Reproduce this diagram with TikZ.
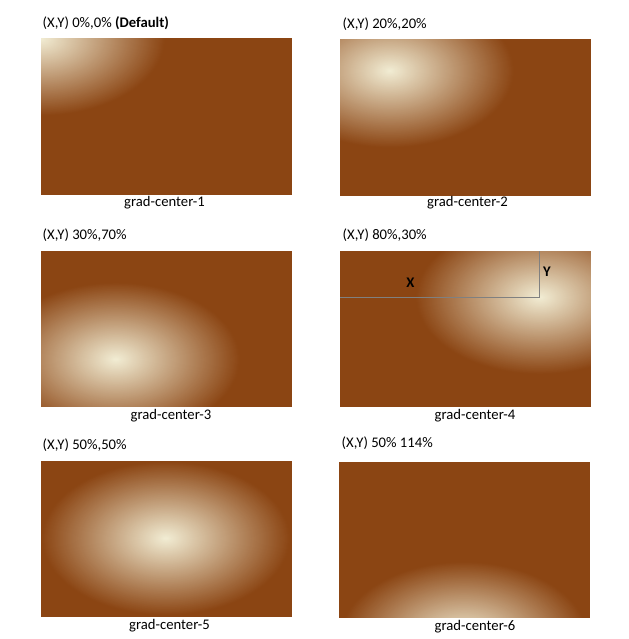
\documentclass[tikz,border=0pt]{standalone}
\usepackage{fontspec}
\setmainfont{Carlito}
\usetikzlibrary{calc}
\definecolor{sbrown}{HTML}{8B4513}
\definecolor{cream}{HTML}{F2EDD4}
\definecolor{guidegray}{HTML}{808080}
\tikzset{
  panel/.style={rectangle, inner sep=0pt, minimum width=250bp, minimum height=155bp, anchor=north west},
  title/.style={anchor=base west, inner sep=0pt, font=\fontsize{14.67bp}{17bp}\selectfont},
  caption/.style={anchor=base, inner sep=0pt, font=\fontsize{14.67bp}{17bp}\selectfont},
  guide/.style={draw=guidegray, line width=1bp},
  axislabel/.style={inner sep=0pt, font=\fontsize{14.67bp}{17bp}\selectfont\bfseries}
}
\newcommand{\gradpanel}[4]{% name, x, y, (fx,fy)
  \node[panel] (#1) at (#2,#3) {};
  \coordinate (#1c) at ($(#1.north west)+#4$);
  \begin{scope}
    \clip (#1.north west) rectangle (#1.south east);
    \begin{scope}[transparency group]
      \fill[sbrown] ($(#1.north west)+(-4,-4)$) rectangle ($(#1.south east)+(4,4)$);
      \foreach \i in {120,119,...,1}{
        \pgfmathsetmacro\tt{(\i-0.5)/120}
        \pgfmathsetmacro\pc{100*(1-\tt)}
        \fill[cream!\pc!sbrown] (#1c) ellipse [x radius=\i*125/120 bp, y radius=\i*77.5/120 bp];
      }
    \end{scope}
  \end{scope}
}
\begin{document}
\begin{tikzpicture}[x=1bp,y=-1bp]
\useasboundingbox (0,0) rectangle (629,639);
\fill[white] (0,0) rectangle (629,639);

\gradpanel{p1}{41}{39}{(0,0)}
\gradpanel{p2}{340}{40}{(50,31)}
\gradpanel{p3}{41}{251}{(75,108.5)}
\gradpanel{p4}{340}{251}{(200,46.5)}
\gradpanel{p5}{41}{461}{(125,77.5)}
\gradpanel{p6}{339}{462}{(125,176.7)}

\node[title] (t1) at (42.5,27.7) {(X,Y) 0\%,0\% \textbf{(Default)}};
\node[title] (t2) at (342.5,28.5) {(X,Y) 20\%,20\%};
\node[title] (t3) at (42.5,239) {(X,Y) 30\%,70\%};
\node[title] (t4) at (342.5,239) {(X,Y) 80\%,30\%};
\node[title] (t5) at (42.5,449) {(X,Y) 50\%,50\%};
\node[title] (t6) at (341.5,447.5) {(X,Y) 50\% 114\%};

\node[caption] (c1) at (164.5,206) {grad-center-1};
\node[caption] (c2) at (467.5,206.5) {grad-center-2};
\node[caption] (c3) at (171,419.5) {grad-center-3};
\node[caption] (c4) at (475,419.5) {grad-center-4};
\node[caption] (c5) at (169.5,629.5) {grad-center-5};
\node[caption] (c6) at (475,630) {grad-center-6};

\coordinate (m) at (539.5,297.5);
\draw[guide] (p4.north -| m) -- (m) -- (p4.west |- m);
\node[axislabel] (lx) at (410.3,282.5) {X};
\node[axislabel] (ly) at (547,271.5) {Y};
\end{tikzpicture}
\end{document}
